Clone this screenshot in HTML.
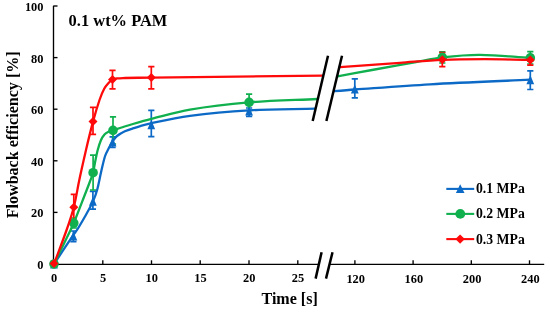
<!DOCTYPE html>
<html><head><meta charset="utf-8"><title>Flowback efficiency</title>
<style>html,body{margin:0;padding:0;background:#fff}body{width:550px;height:313px;overflow:hidden}</style></head>
<body>
<svg width="550" height="313" viewBox="0 0 550 313" style="display:block;filter:blur(0.35px)">
<rect width="550" height="313" fill="#fff"/>
<g stroke="#000" stroke-width="1.35" fill="none">
<path d="M53.5,5.7V264.3H319"/>
<path d="M330,264.3H544.2"/>
<path d="M53.5,264.0h4"/>
<path d="M53.5,212.4h4"/>
<path d="M53.5,160.8h4"/>
<path d="M53.5,109.2h4"/>
<path d="M53.5,57.6h4"/>
<path d="M53.5,6.0h4"/>
<path d="M102.8,264.3v-4"/>
<path d="M151.5,264.3v-4"/>
<path d="M200.2,264.3v-4"/>
<path d="M249.0,264.3v-4"/>
<path d="M297.8,264.3v-4"/>
<path d="M354.9,264.3v-4"/>
<path d="M413.1,264.3v-4"/>
<path d="M471.3,264.3v-4"/>
<path d="M529.5,264.3v-4"/>
</g>
<g font-family="'Liberation Serif',serif" font-weight="bold" font-size="12.4" fill="#000">
<text x="43.5" y="269.0" text-anchor="end">0</text>
<text x="43.5" y="217.4" text-anchor="end">20</text>
<text x="43.5" y="165.8" text-anchor="end">40</text>
<text x="43.5" y="114.2" text-anchor="end">60</text>
<text x="43.5" y="62.6" text-anchor="end">80</text>
<text x="43.5" y="11.0" text-anchor="end">100</text>
<text x="54.2" y="282.2" text-anchor="middle">0</text>
<text x="103.0" y="282.2" text-anchor="middle">5</text>
<text x="151.7" y="282.2" text-anchor="middle">10</text>
<text x="200.4" y="282.2" text-anchor="middle">15</text>
<text x="249.2" y="282.2" text-anchor="middle">20</text>
<text x="297.9" y="282.2" text-anchor="middle">25</text>
<text x="355.7" y="283.2" text-anchor="middle">120</text>
<text x="413.9" y="283.2" text-anchor="middle">160</text>
<text x="472.1" y="283.2" text-anchor="middle">200</text>
<text x="530.3" y="283.2" text-anchor="middle">240</text>
</g>
<g font-family="'Liberation Serif',serif" font-weight="bold" fill="#000" font-size="16">
<text x="68.6" y="26" textLength="98.8" lengthAdjust="spacingAndGlyphs">0.1 wt% PAM</text>
<text x="261.5" y="304" textLength="56.3" lengthAdjust="spacingAndGlyphs">Time [s]</text>
<text transform="translate(17.8,218.3) rotate(-90)" textLength="167" lengthAdjust="spacingAndGlyphs">Flowback efficiency [%]</text>
</g>
<path d="M73.4,231.0V241.6M70.3,231.0h6.2M70.3,241.6h6.2" stroke="#0c6ac6" stroke-width="1.7" fill="none"/>
<path d="M92.9,191.3V209.1M89.8,191.3h6.2M89.8,209.1h6.2" stroke="#0c6ac6" stroke-width="1.7" fill="none"/>
<path d="M112.6,136.8V147.3M109.5,136.8h6.2M109.5,147.3h6.2" stroke="#0c6ac6" stroke-width="1.7" fill="none"/>
<path d="M151.3,110.4V136.7M148.2,110.4h6.2M148.2,136.7h6.2" stroke="#0c6ac6" stroke-width="1.7" fill="none"/>
<path d="M249.1,108.0V116.4M246.0,108.0h6.2M246.0,116.4h6.2" stroke="#0c6ac6" stroke-width="1.7" fill="none"/>
<path d="M354.8,78.9V97.8M351.7,78.9h6.2M351.7,97.8h6.2" stroke="#0c6ac6" stroke-width="1.7" fill="none"/>
<path d="M530.3,70.8V89.5M527.2,70.8h6.2M527.2,89.5h6.2" stroke="#0c6ac6" stroke-width="1.7" fill="none"/>
<path d="M73.8,218.0V228.0M70.7,218.0h6.2M70.7,228.0h6.2" stroke="#10b04e" stroke-width="1.7" fill="none"/>
<path d="M93.1,155.2V190.0M90.0,155.2h6.2M90.0,190.0h6.2" stroke="#10b04e" stroke-width="1.7" fill="none"/>
<path d="M113.0,116.8V144.0M109.9,116.8h6.2M109.9,144.0h6.2" stroke="#10b04e" stroke-width="1.7" fill="none"/>
<path d="M249.1,94.1V110.5M246.0,94.1h6.2M246.0,110.5h6.2" stroke="#10b04e" stroke-width="1.7" fill="none"/>
<path d="M442.3,51.8V63.0M439.2,51.8h6.2M439.2,63.0h6.2" stroke="#10b04e" stroke-width="1.7" fill="none"/>
<path d="M530.3,51.6V64.0M527.2,51.6h6.2M527.2,64.0h6.2" stroke="#10b04e" stroke-width="1.7" fill="none"/>
<path d="M73.8,194.4V220.5M70.7,194.4h6.2M70.7,220.5h6.2" stroke="#ff0a0a" stroke-width="1.7" fill="none"/>
<path d="M93.0,107.4V134.4M89.9,107.4h6.2M89.9,134.4h6.2" stroke="#ff0a0a" stroke-width="1.7" fill="none"/>
<path d="M112.5,70.4V88.8M109.4,70.4h6.2M109.4,88.8h6.2" stroke="#ff0a0a" stroke-width="1.7" fill="none"/>
<path d="M151.3,66.7V88.8M148.2,66.7h6.2M148.2,88.8h6.2" stroke="#ff0a0a" stroke-width="1.7" fill="none"/>
<path d="M442.3,52.6V66.6M439.2,52.6h6.2M439.2,66.6h6.2" stroke="#ff0a0a" stroke-width="1.7" fill="none"/>
<path d="M530.3,55.0V65.1M527.2,55.0h6.2M527.2,65.1h6.2" stroke="#ff0a0a" stroke-width="1.7" fill="none"/>
<path d="M54.0,264.0 C60.5,254.3 66.9,244.6 73.4,234.9 C74.5,233.2 75.9,231.7 77.0,230.0 C79.8,225.6 82.4,221.1 85.0,216.5 C87.7,211.6 90.6,206.7 92.9,201.6 C94.6,197.9 96.0,194.0 97.1,190.0 C98.7,184.1 99.7,178.0 101.1,172.0 C102.4,166.6 103.4,161.2 105.1,156.0 C106.2,152.8 108.0,149.8 109.5,146.8 C110.4,145.1 111.2,143.4 112.3,141.8 C113.7,139.8 115.1,137.6 117.0,136.0 C119.4,134.0 122.1,132.5 124.9,131.2 C127.4,130.0 130.2,129.2 132.9,128.4 C139.0,126.6 145.1,124.6 151.3,123.2 C164.1,120.4 177.0,117.5 190.0,115.8 C209.6,113.2 229.3,111.5 249.1,110.4 C271.4,109.1 293.7,109.3 316.0,108.7" stroke="#0c6ac6" stroke-width="2.3" fill="none" stroke-linecap="round" stroke-linejoin="round"/>
<path d="M334.0,91.2 C341.0,90.6 348.0,90.0 355.0,89.5 C380.0,87.7 405.0,85.7 430.0,84.3 C463.4,82.4 496.9,81.2 530.3,79.7" stroke="#0c6ac6" stroke-width="2.3" fill="none" stroke-linecap="round" stroke-linejoin="round"/>
<path d="M54.0,259.5L57.9,268.5L50.1,268.5Z" fill="#0c6ac6"/>
<path d="M73.4,231.5L77.3,240.5L69.5,240.5Z" fill="#0c6ac6"/>
<path d="M92.9,196.7L96.8,205.7L89.0,205.7Z" fill="#0c6ac6"/>
<path d="M112.6,137.4L116.5,146.4L108.7,146.4Z" fill="#0c6ac6"/>
<path d="M151.3,120.3L155.2,129.3L147.4,129.3Z" fill="#0c6ac6"/>
<path d="M249.1,106.6L253.0,115.6L245.2,115.6Z" fill="#0c6ac6"/>
<path d="M354.8,84.6L358.7,93.6L350.9,93.6Z" fill="#0c6ac6"/>
<path d="M530.3,75.3L534.2,84.3L526.4,84.3Z" fill="#0c6ac6"/>
<path d="M54.0,264.0 C59.5,252.7 65.1,241.4 70.6,230.0 C71.7,227.7 72.9,225.5 73.8,223.1 C78.2,212.1 82.4,201.0 86.7,190.0 C88.0,186.7 89.3,183.3 90.5,180.0 C91.4,177.6 92.5,175.2 93.1,172.7 C94.1,168.5 94.6,164.2 95.5,160.0 C96.2,156.7 96.8,153.3 97.7,150.0 C98.6,146.8 99.5,143.6 100.8,140.5 C101.7,138.3 102.9,136.3 104.5,134.5 C105.6,133.3 107.1,132.5 108.5,131.8 C109.9,131.1 111.5,130.9 113.0,130.4 C115.3,129.6 117.7,128.8 120.0,128.0 C124.3,126.6 128.6,125.3 132.9,124.0 C139.0,122.2 145.1,120.4 151.3,118.8 C164.2,115.6 176.9,111.8 190.0,109.6 C209.6,106.3 229.3,104.1 249.1,102.4 C271.7,100.5 294.4,100.1 317.0,99.0" stroke="#10b04e" stroke-width="2.3" fill="none" stroke-linecap="round" stroke-linejoin="round"/>
<path d="M337.5,76.4 C349.0,74.3 360.5,72.1 372.0,70.0 C386.7,67.3 401.3,64.6 416.0,62.0 C424.8,60.4 433.5,58.4 442.3,57.4 C454.8,56.0 467.4,54.8 480.0,54.9 C496.8,55.0 513.5,56.9 530.3,57.9" stroke="#10b04e" stroke-width="2.3" fill="none" stroke-linecap="round" stroke-linejoin="round"/>
<circle cx="54.0" cy="264.0" r="4.8" fill="#10b04e"/>
<circle cx="73.8" cy="223.1" r="4.8" fill="#10b04e"/>
<circle cx="93.1" cy="172.7" r="4.8" fill="#10b04e"/>
<circle cx="113.0" cy="130.4" r="4.8" fill="#10b04e"/>
<circle cx="249.1" cy="102.4" r="4.8" fill="#10b04e"/>
<circle cx="442.3" cy="57.4" r="4.8" fill="#10b04e"/>
<circle cx="530.3" cy="57.9" r="4.8" fill="#10b04e"/>
<path d="M54.0,264.0 C58.2,252.7 62.6,241.4 66.6,230.0 C69.2,222.5 71.8,214.9 73.8,207.2 C76.1,198.2 77.4,189.0 79.3,180.0 C81.4,170.0 83.7,160.0 86.0,150.0 C88.2,140.5 90.5,131.0 93.0,121.6 C95.0,114.3 97.1,107.1 99.5,100.0 C100.8,96.2 102.3,92.4 104.2,88.8 C105.3,86.7 106.9,84.8 108.5,83.0 C109.7,81.7 110.9,80.3 112.5,79.5 C113.9,78.8 115.5,78.6 117.0,78.4 C119.7,78.1 122.3,78.1 125.0,78.0 C133.8,77.8 142.5,77.7 151.3,77.6 C208.5,76.9 265.8,76.3 323.0,75.6" stroke="#ff0a0a" stroke-width="2.3" fill="none" stroke-linecap="round" stroke-linejoin="round"/>
<path d="M340.0,67.2 C360.0,65.7 380.0,64.2 400.0,62.8 C414.1,61.8 428.2,60.4 442.3,59.8 C456.5,59.2 470.8,59.2 485.0,59.2 C500.1,59.2 515.2,59.7 530.3,59.9" stroke="#ff0a0a" stroke-width="2.3" fill="none" stroke-linecap="round" stroke-linejoin="round"/>
<path d="M54.0,259.1L58.5,263.6L54.0,268.1L49.5,263.6Z" fill="#ff0a0a"/>
<path d="M73.8,202.7L78.3,207.2L73.8,211.7L69.3,207.2Z" fill="#ff0a0a"/>
<path d="M93.0,117.1L97.5,121.6L93.0,126.1L88.5,121.6Z" fill="#ff0a0a"/>
<path d="M112.5,75.0L117.0,79.5L112.5,84.0L108.0,79.5Z" fill="#ff0a0a"/>
<path d="M151.3,73.1L155.8,77.6L151.3,82.1L146.8,77.6Z" fill="#ff0a0a"/>
<path d="M442.3,55.3L446.8,59.8L442.3,64.3L437.8,59.8Z" fill="#ff0a0a"/>
<path d="M530.3,55.4L534.8,59.9L530.3,64.4L525.8,59.9Z" fill="#ff0a0a"/>
<path d="M328,55.8L312.7,121L326.3,121L342,55.8Z" fill="#fff"/>
<g stroke="#000" stroke-width="2.5" fill="none">
<path d="M328,55.8L312.7,121"/><path d="M342,55.8L326.4,121"/>
<path d="M321.6,252.3L315.6,278.6"/><path d="M332.5,252.3L326,278.6"/>
</g>
<path d="M446.3,188.9H474.2" stroke="#0c6ac6" stroke-width="2.1" fill="none"/>
<path d="M460.2,184.2L464.5,193.0L455.9,193.0Z" fill="#0c6ac6"/>
<text x="476" y="193.2" font-family="'Liberation Serif',serif" font-weight="bold" font-size="13.6" textLength="48.8" lengthAdjust="spacingAndGlyphs" fill="#000">0.1 MPa</text>
<path d="M446.3,213.9H474.2" stroke="#10b04e" stroke-width="2.1" fill="none"/>
<circle cx="460.3" cy="213.9" r="4.9" fill="#10b04e"/>
<text x="476" y="218.4" font-family="'Liberation Serif',serif" font-weight="bold" font-size="13.6" textLength="48.8" lengthAdjust="spacingAndGlyphs" fill="#000">0.2 MPa</text>
<path d="M446.3,239.1H474.2" stroke="#ff0a0a" stroke-width="2.1" fill="none"/>
<path d="M460.1,234.4L464.8,239.1L460.1,243.8L455.4,239.1Z" fill="#ff0a0a"/>
<text x="476" y="243.7" font-family="'Liberation Serif',serif" font-weight="bold" font-size="13.6" textLength="48.8" lengthAdjust="spacingAndGlyphs" fill="#000">0.3 MPa</text>
</svg>
</body></html>
